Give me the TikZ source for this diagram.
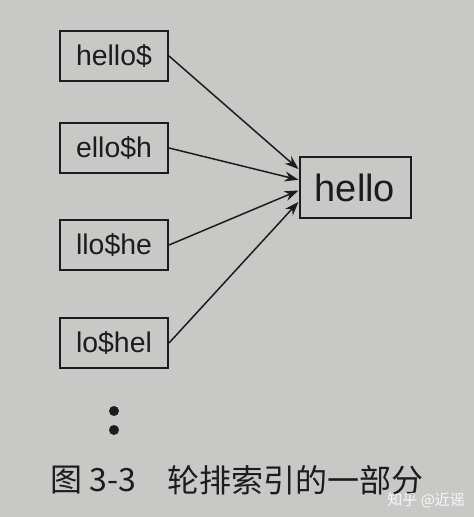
\documentclass[tikz,border=0pt]{standalone}
\usepackage{fontspec}
\setmainfont{Liberation Sans}
\newfontfamily\cjk{Noto Sans CJK SC}
\usetikzlibrary{arrows.meta,positioning,calc}
\definecolor{paper}{RGB}{200,200,198}
\definecolor{ink}{RGB}{28,28,28}
\tikzset{
  rotbox/.style={draw=ink,line width=1pt,minimum width=54pt,minimum height=25pt,inner sep=0pt,
    font=\fontsize{14.2}{17}\selectfont,text=ink},
  wordbox/.style={rotbox,minimum width=55.5pt,minimum height=30.5pt,font=\fontsize{19}{22}\selectfont},
  ptr/.style={-{Stealth[length=7pt,width=5pt]},line width=0.75pt,draw=ink},
  vdot/.style={circle,fill=ink,inner sep=0pt,minimum size=5pt},
  caption/.style={inner sep=0pt,anchor=west,text=ink,font=\cjk\fontsize{16}{18}\selectfont},
}

\begin{document}
\begin{tikzpicture}[x=0.5pt,y=-0.5pt,on grid]
  \fill[paper] (0,0) rectangle (474,517);
  \useasboundingbox (0,0) rectangle (474,517);
  % rotations of the word
  \node[rotbox] (r0) at (114,56) {hello\$};
  \node[rotbox] (r1) [below=46pt of r0] {ello\$h};
  \node[rotbox] (r2) [below=48.5pt of r1] {llo\$he};
  \node[rotbox] (r3) [below=49pt of r2] {lo\$hel};
  \node[vdot] (d0) [below=34pt of r3] {};
  \node[vdot] (d1) [below=9.5pt of d0] {};
  % the word itself
  \node[wordbox] (hello) at (355,188) {hello};
  \foreach \r/\f in {r0/0.2, r1/0.37, r2/0.54, r3/0.72}
    \draw[ptr] (\r.east) -- ($(hello.north west)!\f!(hello.south west)$);
  % caption
  \node[caption] (fig) at (50,480) {图 3-3};
  \node[caption] (title) at (167,480) {轮排索引的一部分};
  \node[inner sep=0pt,anchor=west,text=white!90!paper,font=\cjk\fontsize{7.5}{9}\selectfont]
    (mark) at (387,500) {知乎 @近谣};
\end{tikzpicture}
\end{document}
